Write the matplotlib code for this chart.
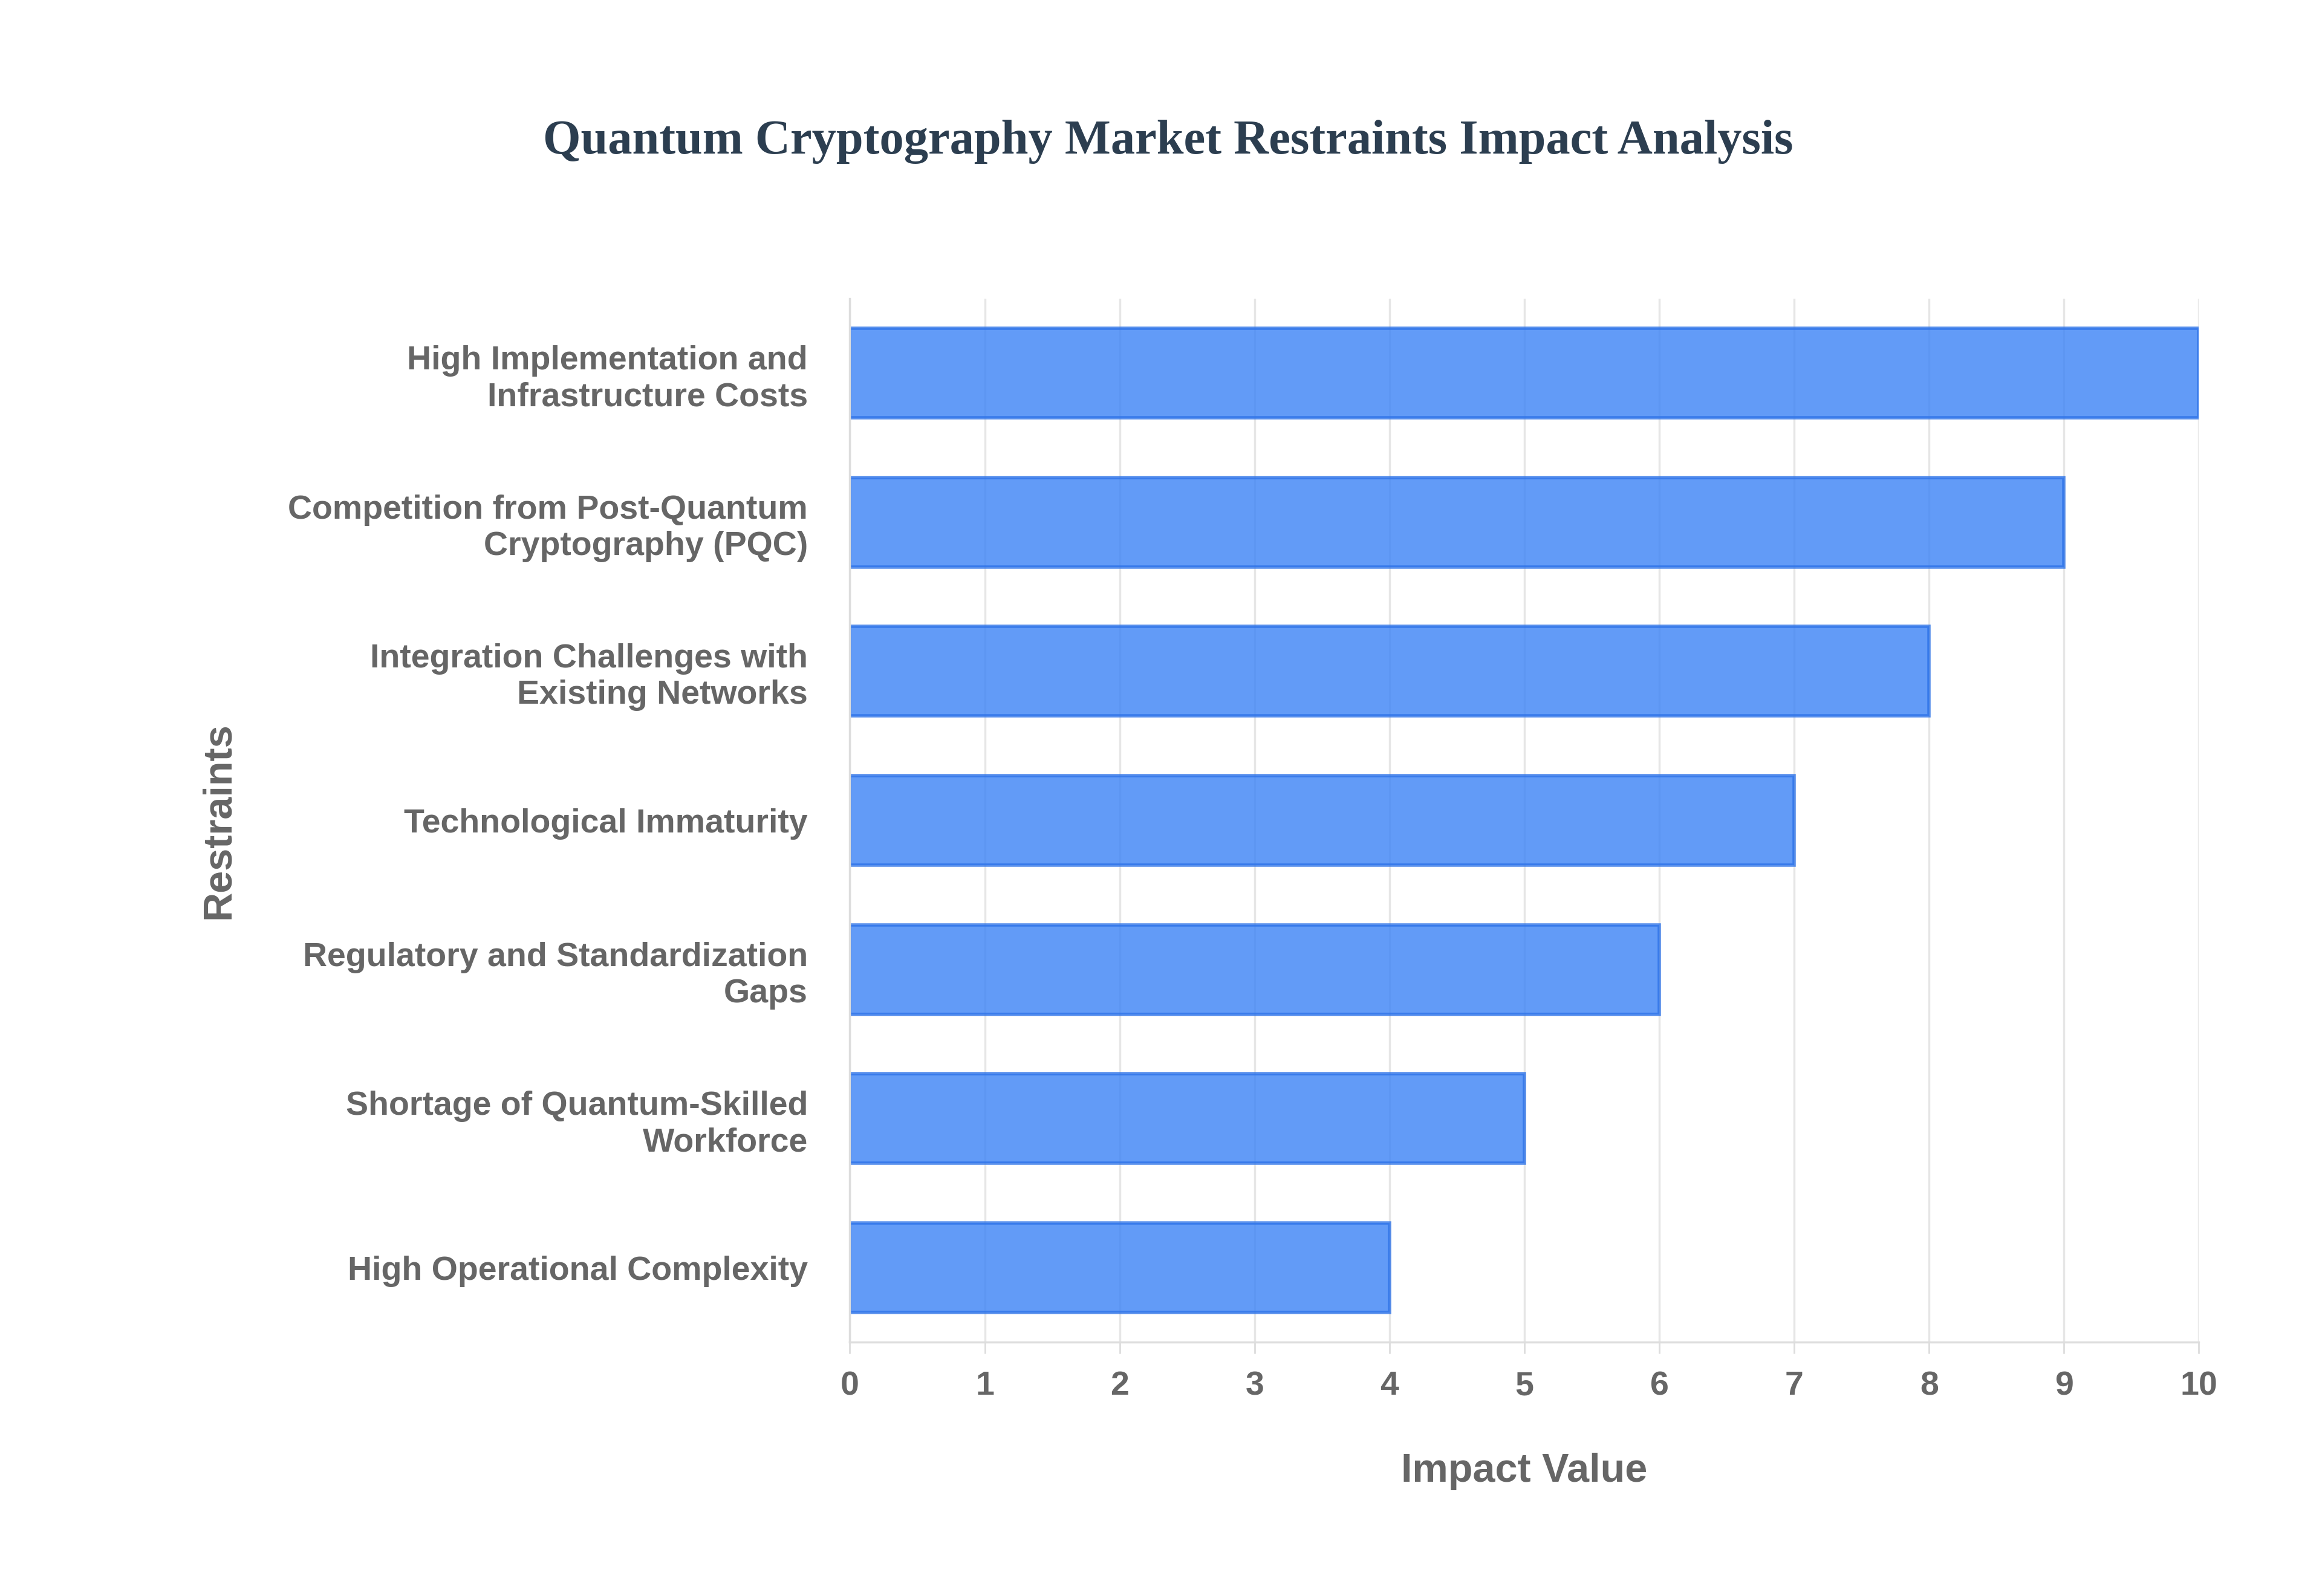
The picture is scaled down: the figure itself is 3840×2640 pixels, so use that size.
import matplotlib.pyplot as plt

# data
restraints = [
    "High Implementation and\nInfrastructure Costs",
    "Competition from Post-Quantum\nCryptography (PQC)",
    "Integration Challenges with\nExisting Networks",
    "Technological Immaturity",
    "Regulatory and Standardization\nGaps",
    "Shortage of Quantum-Skilled\nWorkforce",
    "High Operational Complexity",
]
impact = [10, 9, 8, 7, 6, 5, 4]

fig = plt.figure(figsize=(38.4, 26.4), dpi=100)
ax = fig.add_axes([0.366, 0.159, 0.581, 0.654])

ypos = list(range(len(restraints)))
ax.barh(ypos, impact, height=0.6, color="#3b82f6", alpha=0.8,
        edgecolor="#2f74e8", linewidth=4)
ax.set_ylim(len(restraints) - 0.5, -0.5)
ax.set_xlim(0, 10)
ax.set_xticks(range(0, 11))
ax.set_yticks(ypos)
ax.set_yticklabels(restraints)

lab = dict(family="Liberation Sans", weight="bold", color="#666666")
for t in ax.get_yticklabels():
    t.set(fontsize=40, **lab)
for t in ax.get_xticklabels():
    t.set(fontsize=40, **lab)
ax.tick_params(axis="y", length=0, pad=50)
ax.tick_params(axis="x", length=14, width=2, color="#dddddd", pad=20)

ax.grid(axis="x", color="#e6e6e6", linewidth=2.5)
ax.set_axisbelow(True)
for s in ["top", "right"]:
    ax.spines[s].set_visible(False)
for s in ["left", "bottom"]:
    ax.spines[s].set_color("#dddddd")
    ax.spines[s].set_linewidth(2.5)

ax.set_xlabel("Impact Value", fontsize=48, labelpad=60, **lab)
ax.set_ylabel("Restraints", fontsize=48, labelpad=60, **lab)

fig.text(0.503, 0.911, "Quantum Cryptography Market Restraints Impact Analysis",
         ha="center", va="center", fontsize=58, family="Liberation Serif",
         weight="bold", color="#2c3e50")

fig.savefig("out.png")
